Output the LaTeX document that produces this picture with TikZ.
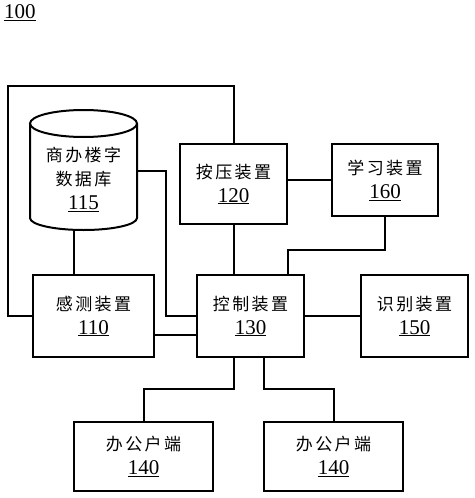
\documentclass[tikz,border=0pt]{standalone}
\usepackage{fontspec}
\setmainfont{Liberation Serif}
\newfontfamily\cjk[LetterSpace=14]{Noto Sans CJK SC}
\newcommand{\numlab}[1]{{\fontsize{21}{24}\selectfont\underline{#1}}}
\begin{document}
\begin{tikzpicture}[x=1pt,y=-1pt,
  every node/.style={font=\fontsize{17}{24}\selectfont, align=center},
  box/.style={draw, line width=2pt, inner sep=0pt},
  conn/.style={draw, line width=2pt}]
\useasboundingbox (0,0) rectangle (474,498);
% title
\node (t100) at (20,13) {\numlab{100}};
% cylinder database
\draw[line width=2pt, fill=white] (30,123.5) -- (30,218)
  arc[start angle=180, end angle=360, x radius=53.5pt, y radius=12pt]
  -- (137,123.5);
\draw[line width=2pt] (83.5,123.5) ellipse[x radius=53.5pt, y radius=13.5pt];
\node (db) at (83.5,179) {{\cjk 商办楼字}\\{\cjk 数据库}\\\numlab{115}};
\coordinate (dbb) at (74,230);
\coordinate (dbr) at (137,171);
% boxes
\node[box, minimum width=121pt, minimum height=82pt] (s110) at (93.5,316) {{\cjk 感测装置}\\\numlab{110}};
\node[box, minimum width=107pt, minimum height=80pt] (p120) at (233.5,184) {{\cjk 按压装置}\\\numlab{120}};
\node[box, minimum width=106pt, minimum height=72pt] (l160) at (385,180) {{\cjk 学习装置}\\\numlab{160}};
\node[box, minimum width=107pt, minimum height=82pt] (c130) at (250.5,316) {{\cjk 控制装置}\\\numlab{130}};
\node[box, minimum width=107pt, minimum height=82pt] (r150) at (414.5,316) {{\cjk 识别装置}\\\numlab{150}};
\node[box, minimum width=139pt, minimum height=69pt] (o140a) at (143.5,456.5) {{\cjk 办公户端}\\\numlab{140}};
\node[box, minimum width=139pt, minimum height=69pt] (o140b) at (333.5,456.5) {{\cjk 办公户端}\\\numlab{140}};
% junction coordinates
\coordinate (lp) at (8,86);
\coordinate (cj) at (166,316);
\coordinate (j2) at (288,250);
\coordinate (j3) at (143.5,389);
\coordinate (j4) at (333.5,389);
% connectors
\path[conn] (s110.west) -| (lp) -| (p120.north);
\path[conn] (dbb) -- (dbb |- s110.north);
\path[conn] (dbr) -| (cj) -- (c130.west);
\path[conn] ([yshift=-19pt]s110.east) -- ([yshift=-19pt]c130.west);
\path[conn] (p120.south) -- (p120.south |- c130.north);
\path[conn] (l160.west) -- (l160.west -| p120.east);
\path[conn] (l160.south) |- (j2) -- (j2 |- c130.north);
\path[conn] (c130.east) -- (r150.west);
\path[conn] ([xshift=-16.5pt]c130.south) |- (j3) -- (o140a.north);
\path[conn] ([xshift=13.5pt]c130.south) |- (j4) -- (o140b.north);
\end{tikzpicture}
\end{document}
